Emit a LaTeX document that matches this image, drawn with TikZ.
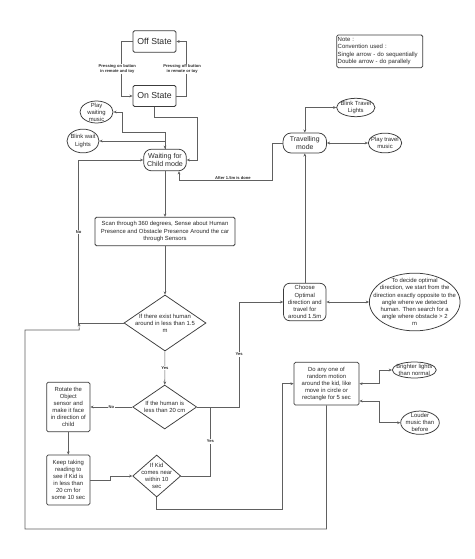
\documentclass[tikz,border=0pt]{standalone}
\usepackage{fontspec}
\setmainfont{Liberation Sans}
\usetikzlibrary{arrows.meta,shapes.geometric,calc}
\definecolor{lcol}{HTML}{606060}
\definecolor{bcol}{HTML}{3C3C3C}
\definecolor{tcol}{HTML}{2A2A2A}
\begin{document}
\begin{tikzpicture}[x=1pt,y=-1pt,
  base/.style={draw=bcol, line width=0.75pt, align=center, inner sep=0pt, text=tcol, font=\fontsize{5.9}{7.1}\selectfont},
  box/.style={base, rectangle, rounded corners=1.5pt},
  pill/.style={base, rectangle, rounded corners=#1},
  pill/.default=8pt,
  oval/.style={base, ellipse},
  dec/.style={base, diamond},
  inlab/.style={font=\fontsize{5.9}{7.1}\selectfont, align=center, text=tcol, inner sep=0pt},
  conn/.style={draw=lcol, line width=0.6pt, -{Stealth[length=3.2pt,width=2.8pt]}},
  both/.style={draw=lcol, line width=0.6pt, {Stealth[length=3.2pt,width=2.8pt]}-{Stealth[length=3.2pt,width=2.8pt]}},
  plain/.style={draw=lcol, line width=0.6pt},
  lbl/.style={font=\fontsize{4.1}{4.9}\selectfont\bfseries, fill=white, inner sep=0.6pt, align=center, text=tcol}
]
\fill[white] (0,0) rectangle (474,559);
\useasboundingbox (0,0) rectangle (474,559);

% nodes
\node[box, minimum width=43pt, minimum height=21.5pt, font=\fontsize{8.7}{10}\selectfont] (off) at (154.5,41.5) {Off State};
\node[box, minimum width=43pt, minimum height=21pt, font=\fontsize{8.7}{10}\selectfont] (on) at (154.5,96) {On State};
\node[pill=8pt, minimum width=42.7pt, minimum height=21.7pt, font=\fontsize{7.1}{8.8}\selectfont] (wait) at (165,160) {Waiting for\\Child mode};
\node[oval, minimum width=33pt, minimum height=22pt, label={[inlab]center:{Play\\waiting\\music}}] (playw) at (96.5,112) {};
\node[oval, minimum width=32pt, minimum height=23.7pt, label={[inlab]center:{Blink wait\\Lights}}] (blinkw) at (83,141) {};
\node[box, minimum width=140pt, minimum height=28.5pt] (scan) at (165,231.5) {Scan through 360 degrees, Sense about Human\\Presence and Obstacle Presence Around the car\\through Sensors};
\node[dec, minimum width=82pt, minimum height=56pt, label={[inlab]center:{If there exist human\\around in less than 1.5\\m}}] (d1) at (165,323) {};
\node[dec, minimum width=64pt, minimum height=44pt, label={[inlab]center:{If the human is\\less than 20 cm}}] (d2) at (164.7,407) {};
\node[box, minimum width=43.3pt, minimum height=49.4pt] (rot) at (68.3,407) {Rotate the\\Object\\sensor and\\make it face\\in direction of\\child};
\node[box, minimum width=43.3pt, minimum height=50pt] (keep) at (68.3,480) {Keep taking\\reading to\\see if Kid is\\in less than\\20 cm for\\some 10 sec};
\node[dec, minimum width=48pt, minimum height=42pt, label={[inlab]center:{If Kid\\comes near\\within 10\\sec}}] (kid) at (156.7,476) {};
\node[pill=6pt, minimum width=42.4pt, minimum height=37.4pt] (choose) at (304.8,302) {Choose\\Optimal\\direction and\\travel for\\around 1.5m};
\node[pill=8pt, minimum width=43.4pt, minimum height=20pt, font=\fontsize{6.9}{8.3}\selectfont] (travel) at (304.8,143) {Travelling\\mode};
\node[oval, minimum width=90.7pt, minimum height=57.7pt, label={[inlab]center:{To decide optimal\\direction, we start from the\\direction exactly opposite to the\\angle where we detected\\human. Then search for a\\angle where obstacle > 2\\m}}] (decide) at (414.7,302) {};
\node[oval, minimum width=38.3pt, minimum height=18.4pt, label={[inlab]center:{Blink Travel\\Lights}}] (blinkt) at (355.8,107.5) {};
\node[oval, minimum width=33.4pt, minimum height=19.7pt, label={[inlab]center:{Play travel\\music}}] (playt) at (385,143) {};
\node[box, minimum width=86pt, minimum height=32.7pt, text width=84pt, inner xsep=1pt, align=left, font=\fontsize{6}{7.5}\selectfont] (note) at (379.7,51.3) {Note :\\Convention used :\\Single arrow - do sequentially\\Double arrow - do parallely};
\node[box, minimum width=65pt, minimum height=42.7pt] (doany) at (326.5,383.7) {Do any one of\\random motion\\around the kid, like\\move in circle or\\rectangle for 5 sec};
\node[oval, minimum width=44pt, minimum height=16pt, label={[inlab]center:{Brighter lights\\than normal}}] (bright) at (414.3,370) {};
\node[oval, minimum width=38.6pt, minimum height=23.3pt, label={[inlab]center:{Louder\\music than\\before}}] (louder) at (420,422.7) {};

% routing coordinates
\coordinate (cBL) at (25,529);
\coordinate (cNo) at (79.3,330);
\coordinate (tA) at (272,180);

% connectors
\draw[conn] (off.west) -- ++(-11.3,0) |- node[lbl, pos=.25, xshift=-4pt]{Pressing on button\\in remote and toy} (on.west);
\draw[conn] (on.east) -- ++(10.2,0) |- node[lbl, pos=.25, xshift=-4.4pt]{Pressing off button\\in remote or toy} (off.east);
\draw[conn] (on.south) -- ++(0,10) -| ([xshift=10.3pt]wait.east) -- (wait.east);
\draw[both] (wait.north) |- (blinkw.east);
\draw[conn] (wait.north) -- ++(0,-16.3) -| ([xshift=8.7pt]playw.east) -- (playw.east);
\draw[conn] (wait) -- (scan);
\draw[conn] (scan) -- (d1);
\draw[conn] (d1.west) -| node[lbl, pos=.78]{No} ([xshift=-64.7pt]wait.west) -- (wait.west);
\draw[conn] (d1) -- node[lbl]{Yes} (d2);
\draw[conn] (d2) -- node[lbl]{No} (rot);
\draw[conn] (d2.east) -- ++(42,0) |- node[lbl, pos=.25]{Yes} (choose.west);
\draw[conn] (rot) -- (keep);
\draw[conn] (keep.east) -- ++(20,0) |- (kid.west);
\draw[plain] (kid.east) -| node[lbl, pos=.75]{Yes} ([xshift=13.3pt]d2.east);
\draw[conn] (kid.south) -- ++(0,12) -| ([xshift=-11pt]doany.west) -- (doany.west);
\draw[conn] (doany.south) |- (cBL) |- (cNo) -- ([xshift=-44.7pt]d1.west);
\draw[conn] (choose) -- (travel);
\draw[both] (choose) -- (decide);
\draw[conn] (travel.west) -| (tA) -| node[lbl, pos=.21, anchor=south, fill=none]{After 1.5m is done} ([xshift=14pt]wait.south);
\draw[both] (travel.north) |- (blinkt.west);
\draw[both] (travel) -- (playt);
\draw[both] (doany.east) -- ++(20.3,0) |- (bright.west);
\draw[both] ([yshift=-17.3pt]doany.east) -- ++(20.3,0) |- (louder.west);
\end{tikzpicture}
\end{document}
